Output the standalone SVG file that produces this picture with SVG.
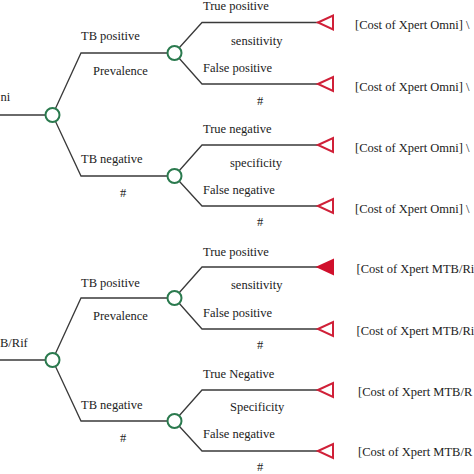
<svg xmlns="http://www.w3.org/2000/svg" width="474" height="474" viewBox="0 0 474 474">
<style>
text{font-family:"Liberation Serif","Times New Roman",serif;font-size:12.5px;fill:#222}
.ln{fill:none;stroke:#3a3a3a;stroke-width:1.3}
.ch{fill:#fff;stroke:#2a7a4e;stroke-width:2}
.tm{fill:#fff;stroke:#d02038;stroke-width:2;stroke-linejoin:miter}
.tf{fill:#d0102c;stroke:#d0102c;stroke-width:2}
</style>
<rect width="474" height="474" fill="#fff"/>
<g id="connectors">
<path class="ln" d="M0 115H52.5M52.5 115L81 53H174.5M52.5 115L81 176H174.5"/>
<path class="ln" d="M174.5 53L202 22.5H318M174.5 53L202 84H318M174.5 176L202 145H318M174.5 176L202 206H318"/>
<path class="ln" d="M0 360H52.5M52.5 360L81 298H174.5M52.5 360L81 421H174.5"/>
<path class="ln" d="M174.5 298L202 267H318M174.5 298L202 329H318M174.5 421L202 390H318M174.5 421L202 451H318"/>
</g>
<g id="omni-root"><text x="0.5" y="101">ni</text></g>
<g id="omni-chance"><circle class="ch" cx="52.5" cy="115" r="7"/></g>
<g id="omni-tbpos"><text x="81" y="40">TB positive</text><text x="93" y="75">Prevalence</text><circle class="ch" cx="174.5" cy="53" r="7"/></g>
<g id="omni-tbneg"><text x="81" y="163">TB negative</text><text x="120" y="197">#</text><circle class="ch" cx="174.5" cy="176" r="7"/></g>
<g id="omni-tp"><text x="203" y="10">True positive</text><text x="231" y="45">sensitivity</text><path class="tm" d="M318 22.5L333 15.5V29.5Z"/><text x="355" y="29">[Cost of Xpert Omni] \</text></g>
<g id="omni-fp"><text x="203" y="72">False positive</text><text x="257" y="105">#</text><path class="tm" d="M318 84L333 77V91Z"/><text x="355" y="90.5">[Cost of Xpert Omni] \</text></g>
<g id="omni-tn"><text x="203" y="133">True negative</text><text x="230" y="167">specificity</text><path class="tm" d="M318 145L333 138V152Z"/><text x="355" y="152">[Cost of Xpert Omni] \</text></g>
<g id="omni-fn"><text x="203" y="194">False negative</text><text x="257" y="226">#</text><path class="tm" d="M318 206L333 199V213Z"/><text x="355" y="213">[Cost of Xpert Omni] \</text></g>
<g id="mtb-root"><text x="0" y="347">B/Rif</text></g>
<g id="mtb-chance"><circle class="ch" cx="52.5" cy="360" r="7"/></g>
<g id="mtb-tbpos"><text x="81" y="286.5">TB positive</text><text x="93" y="320">Prevalence</text><circle class="ch" cx="174.5" cy="298" r="7"/></g>
<g id="mtb-tbneg"><text x="81" y="409">TB negative</text><text x="120" y="442">#</text><circle class="ch" cx="174.5" cy="421" r="7"/></g>
<g id="mtb-tp"><text x="203" y="256">True positive</text><text x="231" y="289">sensitivity</text><path class="tf" d="M318 267L333 260V274Z"/><text x="356.5" y="272.5">[Cost of Xpert MTB/Ri</text></g>
<g id="mtb-fp"><text x="203" y="317">False positive</text><text x="257" y="349">#</text><path class="tm" d="M318 329L333 322V336Z"/><text x="356.5" y="334.5">[Cost of Xpert MTB/Ri</text></g>
<g id="mtb-tn"><text x="203" y="377.5">True Negative</text><text x="230" y="411">Specificity</text><path class="tm" d="M318 390L333 383V397Z"/><text x="358" y="396">[Cost of Xpert MTB/R</text></g>
<g id="mtb-fn"><text x="203" y="438">False negative</text><text x="257" y="471">#</text><path class="tm" d="M318 451L333 444V458Z"/><text x="358" y="456">[Cost of Xpert MTB/R</text></g>
</svg>
